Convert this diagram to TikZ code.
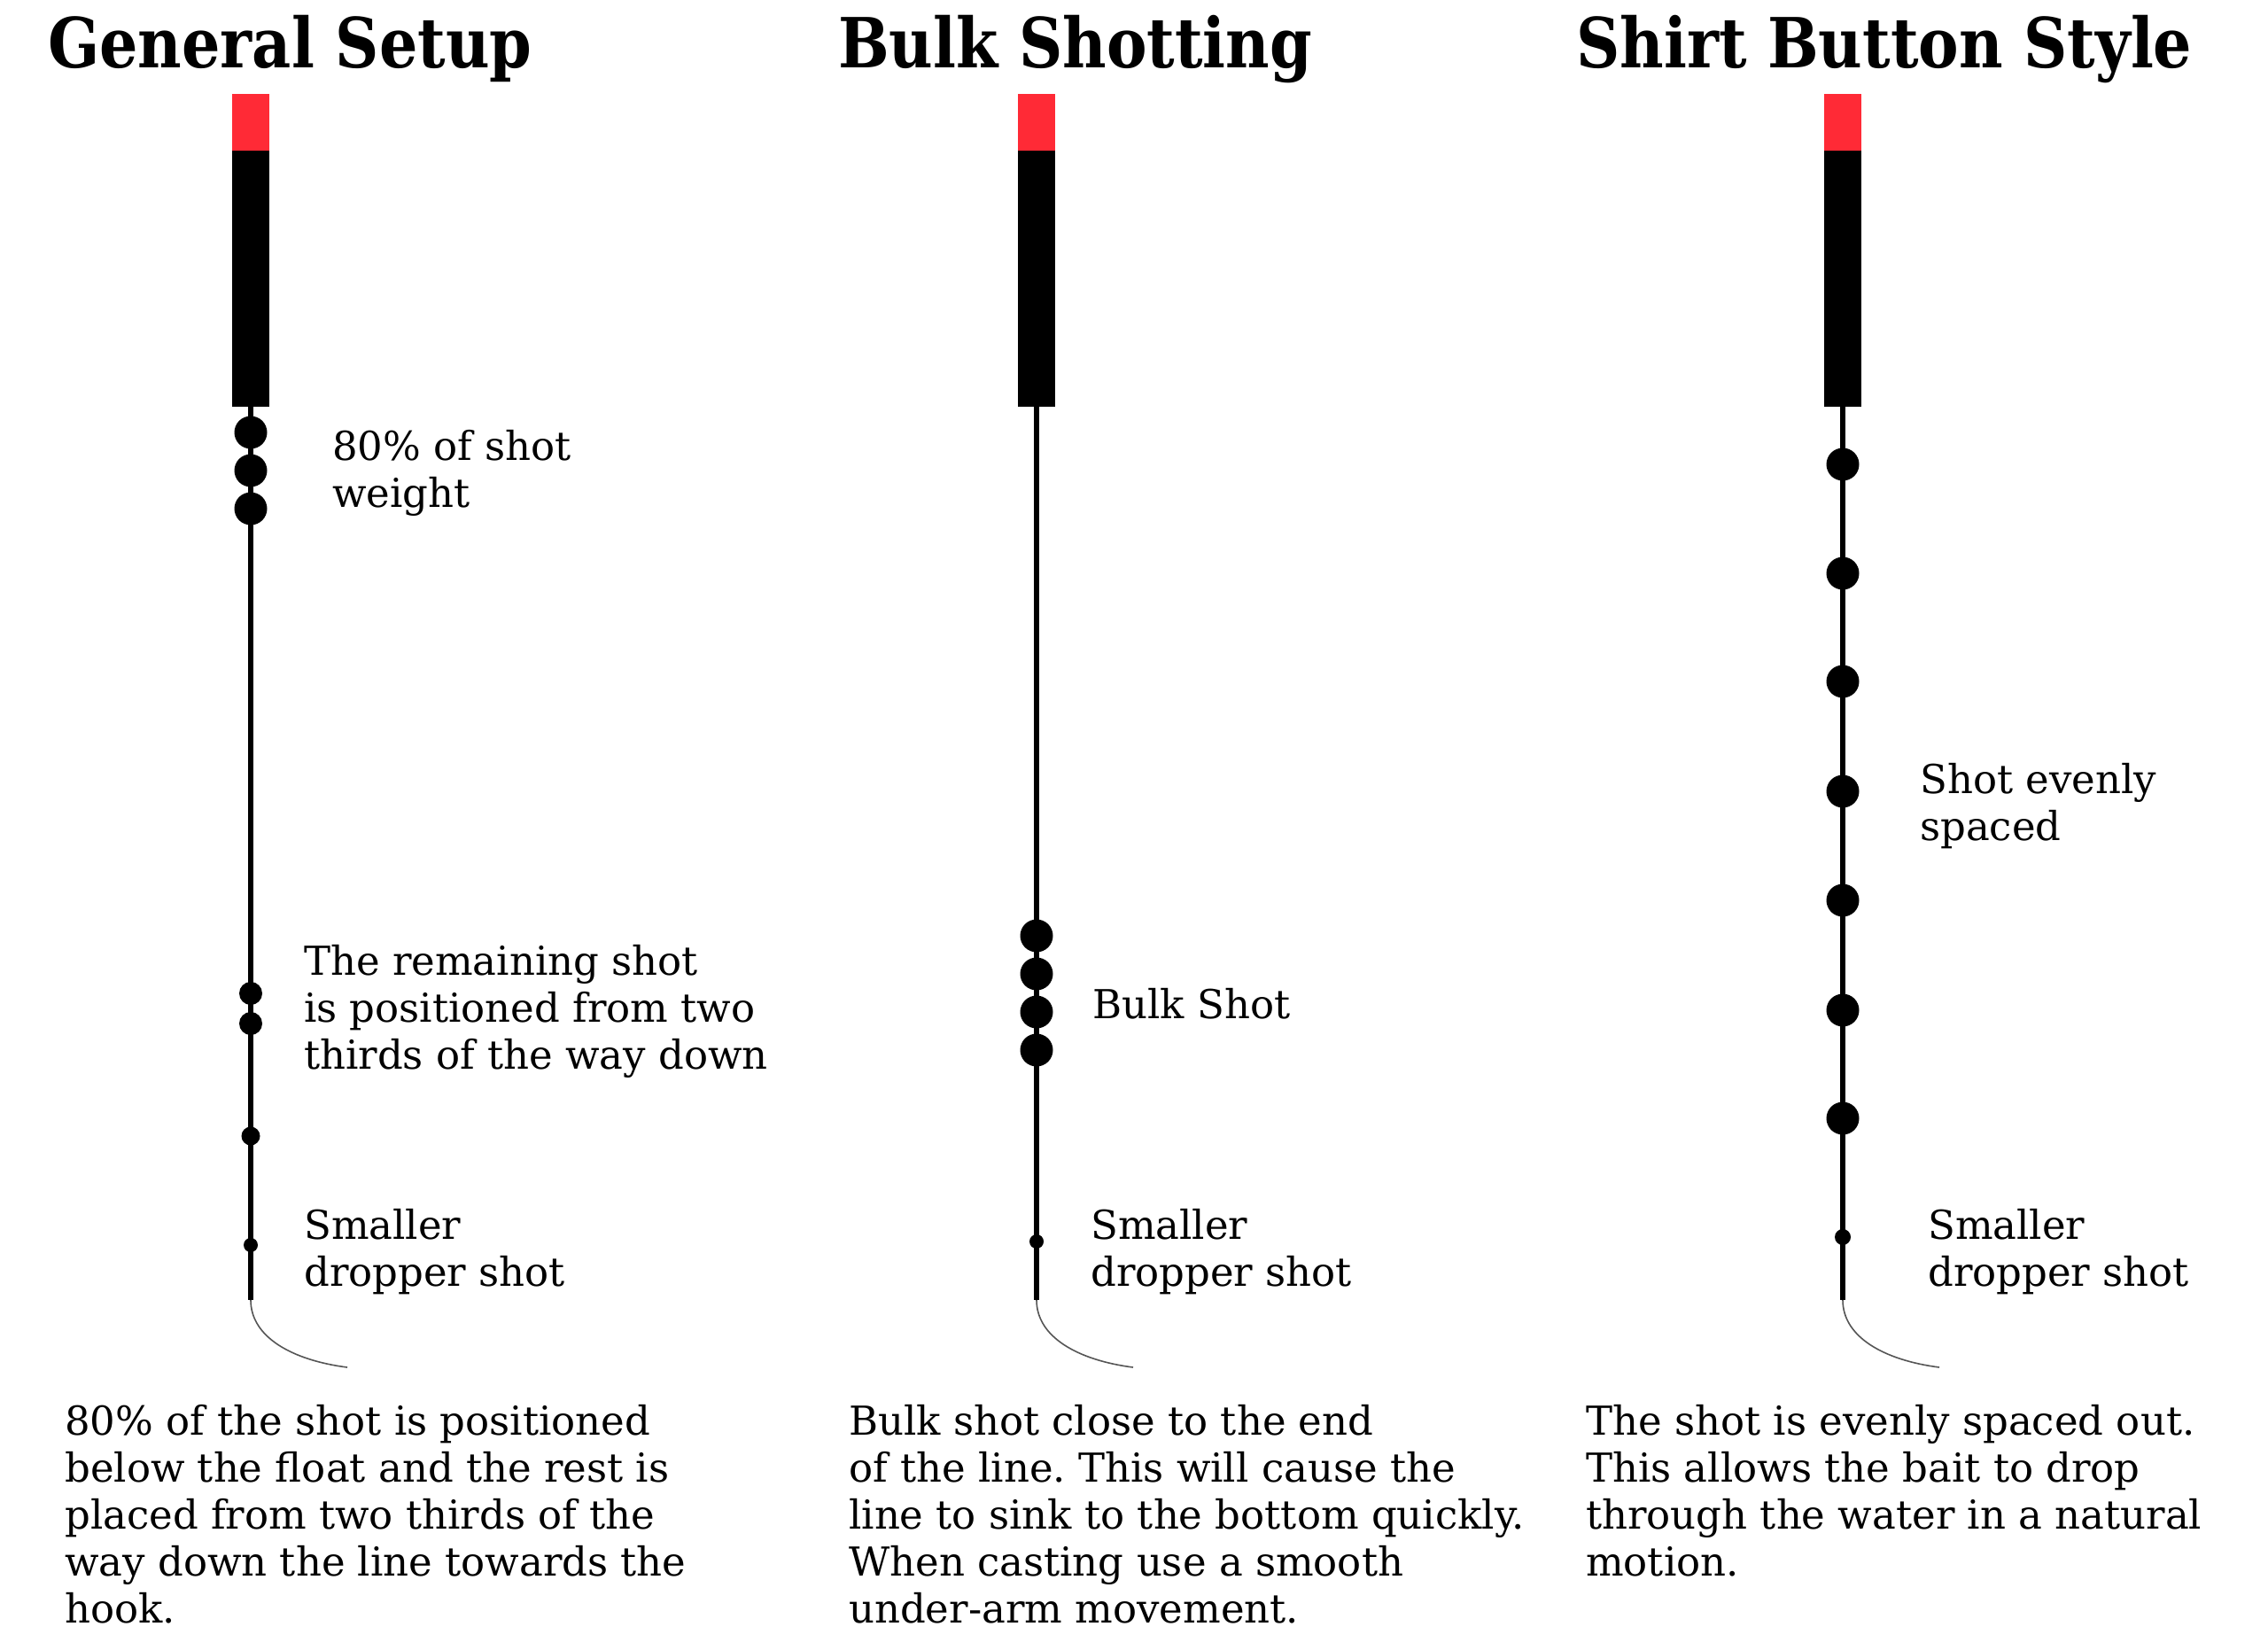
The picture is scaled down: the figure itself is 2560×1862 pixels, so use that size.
\documentclass[tikz,border=0pt]{standalone}
\usepackage{fontspec}
\setmainfont{DejaVu Serif}
\definecolor{tipred}{RGB}{255,42,54}
\definecolor{hookgray}{RGB}{85,85,85}
\newcommand{\narrowtitle}[1]{\scalebox{0.875}[1]{#1}}
\frenchspacing
\begin{document}
\begin{tikzpicture}[x=1pt,y=-1pt,
  titletext/.style={font=\fontsize{78}{90}\selectfont\bfseries, anchor=base west, inner sep=0pt},
  labeltext/.style={font=\fontsize{45}{53}\selectfont\frenchspacing, anchor=base west, align=left, inner sep=0pt},
  tipbox/.style={fill=tipred, minimum width=42pt, minimum height=64pt, inner sep=0pt, anchor=north, outer sep=0pt},
  bodybox/.style={fill=black, minimum width=42pt, minimum height=289pt, inner sep=0pt, anchor=north, outer sep=0pt},
  shotdot/.style={circle, fill=black, inner sep=0pt, outer sep=0pt, minimum size=#1},
  shotdot/.default=37pt,
  fishline/.style={line width=6.5pt},
  hookline/.style={draw=hookgray, line width=1.6pt}]
\useasboundingbox (0,0) rectangle (2560,1862);
\fill[white] (0,0) rectangle (2560,1862);

% titles
\node[titletext] (t1) at (54,77) {\narrowtitle{General Setup}};
\node[titletext] (t2) at (946,77) {\narrowtitle{Bulk Shotting}};
\node[titletext] (t3) at (1779,77) {\narrowtitle{Shirt Button Style}};

% floats
\foreach \c/\x in {1/283,2/1170,3/2080}{
  \node[tipbox] (r\c) at (\x,106) {};
  \node[bodybox] (b\c) at (\x,170) {};
  \coordinate (h\c) at (\x,1467);
  \coordinate (e\c) at (\x+109,1543);
  \draw[fishline] (b\c.south) -- (h\c);
  \draw[hookline] (h\c) .. controls +(0,42) and +(-62,-8) .. (e\c);
}

% column 1 shots
\node[shotdot] (s11) at (283,488) {};
\node[shotdot] (s12) at (283,531) {};
\node[shotdot] (s13) at (283,574) {};
\node[shotdot=26pt] (s14) at (283,1121) {};
\node[shotdot=26pt] (s15) at (283,1155) {};
\node[shotdot=21pt] (s16) at (283,1282) {};
\node[shotdot=16pt] (s17) at (283,1405) {};

% column 2 shots
\node[shotdot] (s21) at (1170,1056) {};
\node[shotdot] (s22) at (1170,1099) {};
\node[shotdot] (s23) at (1170,1142) {};
\node[shotdot] (s24) at (1170,1185) {};
\node[shotdot=16pt] (s25) at (1170,1401) {};

% column 3 shots
\foreach \i/\y in {1/524,2/647,3/769,4/893,5/1016,6/1140,7/1262}{
  \node[shotdot] (s3\i) at (2080,\y) {};
}
\node[shotdot=18pt] (s38) at (2080,1396) {};

% labels column 1 (anchor = baseline of last line)
\node[labeltext] (l11) at (375,572) {80\% of shot\\weight};
\node[labeltext] (l12) at (343,1206) {The remaining shot\\is positioned from two\\thirds of the way down};
\node[labeltext] (l13) at (343,1451) {Smaller\\dropper shot};
% labels column 2
\node[labeltext] (l21) at (1233,1149) {Bulk Shot};
\node[labeltext] (l22) at (1231,1451) {Smaller\\dropper shot};
% labels column 3
\node[labeltext] (l31) at (2167,948) {Shot evenly\\spaced};
\node[labeltext] (l32) at (2176,1451) {Smaller\\dropper shot};

% paragraphs
\node[labeltext] (p1) at (73,1831) {80\% of the shot is positioned\\below the float and the rest is\\placed from two thirds of the\\way down the line towards the\\hook.};
\node[labeltext] (p2) at (958,1831) {Bulk shot close to the end\\of the line. This will cause the\\line to sink to the bottom quickly.\\When casting use a smooth\\under-arm movement.};
\node[labeltext] (p3) at (1790,1778) {The shot is evenly spaced out.\\This allows the bait to drop\\through the water in a natural\\motion.};
\end{tikzpicture}
\end{document}
